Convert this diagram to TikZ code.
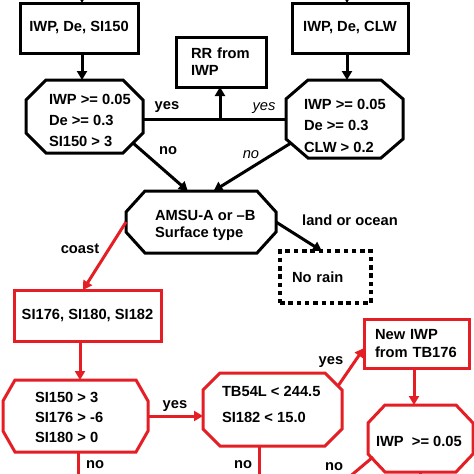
\documentclass[tikz,border=0pt]{standalone}
\usepackage{fontspec}
\setmainfont{Liberation Sans}
\usetikzlibrary{arrows.meta,calc}
\definecolor{rd}{RGB}{228,30,36}
% octagon drawn round a rectangular node: colour, node name, x chamfer, y chamfer
\newcommand\octo[4][black]{%
  \draw[line width=3pt,draw=#1,line join=miter]
    ([xshift=#3]#2.north west) -- ([xshift=-#3]#2.north east) --
    ([yshift=-#4]#2.north east) -- ([yshift=#4]#2.south east) --
    ([xshift=-#3]#2.south east) -- ([xshift=#3]#2.south west) --
    ([yshift=#4]#2.south west) -- ([yshift=-#4]#2.north west) -- cycle;}
\begin{document}
\begin{tikzpicture}[x=1pt,y=-1pt,
  every node/.style={font=\bfseries\fontsize{14.7}{17}\selectfont, inner sep=0pt, outer sep=0pt},
  it/.style={font=\fontsize{14.7}{17}\selectfont\itshape},
  ln/.style={line width=3pt},
  arr/.style={line width=3pt,-{Triangle[length=9pt,width=10pt]}},
  rarr/.style={arr,draw=rd},
  bx/.style={draw, line width=3pt, rectangle},
  rbx/.style={bx, draw=rd},
  oct/.style={rectangle, draw=none},
  txt/.style={anchor=north west, align=left},
  nr/.style={draw, line width=4pt, dash pattern=on 4.5pt off 3.8pt}
]
\fill[white] (0,0) rectangle (474,474);
\useasboundingbox (0,0) rectangle (474,474);

% boxes
\node[bx, minimum width=118pt, minimum height=50pt] (A) at (79,28) {IWP, De, SI150};
\node[bx, minimum width=116pt, minimum height=50pt] (B) at (350,28) {IWP, De, CLW};
\node[bx, minimum width=90pt, minimum height=50pt, text width=60pt, inner xsep=15pt, align=left] (RR) at (221,62) {RR from\\IWP};

\node[oct, minimum width=117pt, minimum height=73pt] (O1) at (84.5,116.5) {};
\octo{O1}{20pt}{20pt}
\node[txt] (O1t) at (49,94) {IWP >= 0.05\\[4pt]De >= 0.3\\[4pt]SI150 > 3};
\node[oct, minimum width=117pt, minimum height=78pt] (O2) at (344.5,119) {};
\octo{O2}{22pt}{19pt}
\node[txt] (O2t) at (304,99) {IWP >= 0.05\\[4.5pt]De >= 0.3\\[4.5pt]CLW > 0.2};

\node[oct, minimum width=150pt, minimum height=62pt] (AM) at (201,222) {};
\octo{AM}{19pt}{21pt}
\node[txt] (AMt) at (155,210) {AMSU-A or –B\\Surface type};
\node[nr, minimum width=91pt, minimum height=52pt, text width=67pt, inner xsep=12pt, align=left] (NR) at (325.5,277) {No rain};

\node[rbx, minimum width=147pt, minimum height=51pt] (S) at (87.5,315.5) {SI176, SI180, SI182};
\node[oct, minimum width=145pt, minimum height=72pt] (O3) at (75.5,416) {};
\octo[rd]{O3}{12pt}{21pt}
\node[txt] (O3t) at (35,392.7) {SI150 > 3\\[3pt]SI176 > -6\\[3pt]SI180 > 0};
\node[oct, minimum width=139pt, minimum height=73pt] (O4) at (272.5,409.5) {};
\octo[rd]{O4}{17pt}{17pt}
\node[txt] (O4t) at (222,386.7) {TB54L < 244.5\\[9pt]SI182 < 15.0};
\node[rbx, minimum width=105pt, minimum height=49pt, text width=83pt, inner xsep=11pt, align=left] (N) at (416.5,343.5) {New IWP\\[1pt]from TB176};
\node[oct, minimum width=105pt, minimum height=67pt] (O5) at (420.5,438.5) {};
\octo[rd]{O5}{17pt}{18pt}
\node[txt] (O5t) at (376,436) {IWP\ \ >= 0.05};

% helper coordinates
\coordinate (xa) at (82,-20);
\coordinate (xb) at (347,-20);
\coordinate (yl) at (220,119);
\coordinate (xs) at (80,0);
\coordinate (xn) at (414,0);
\coordinate (e3) at (78,490);
\coordinate (e4) at (259,490);
\coordinate (e5) at (420.5,490);
\coordinate (e6) at (335,489);

% connectors
\draw[arr] (xa) -- (xa |- A.north);
\draw[arr] (xa |- A.south) -- (xa |- O1.north);
\draw[arr] (xb) -- (xb |- B.north);
\draw[arr] (xb |- B.south) -- (xb |- O2.north);
\draw[ln] (yl -| O1.east) -- (yl -| O2.west);
\draw[arr] (yl) -- (yl |- RR.south);
\draw[arr] ($(O1.south east)+(-10,-10)$) -- (AM.113);
\draw[arr] ($(O2.south west)+(5,-15)$) -- (AM.68);
\draw[arr] (AM.east) -- (NR.98);
\draw[rarr] (AM.west) -- (S.100);
\draw[rarr] (xs |- S.south) -- (xs |- O3.north);
\draw[rarr] (O3.east) -- (O3.east -| O4.west);
\draw[rarr] ($(O4.north east)+(-4,13)$) -- (N.185);
\draw[rarr] (xn |- N.south) -- (xn |- O5.north);
\draw[rarr] (e3 |- O3.south) -- (e3);
\draw[rarr] (e4 |- O4.south) -- (e4);
\draw[rarr] (O5.south) -- (e5);
\draw[rarr] ($(O5.south west)+(5,-15)$) -- (e6);

% labels
\node[anchor=base] (l1) at (167,109.5) {yes};
\node[it, anchor=base] (l2) at (264,110) {yes};
\node[anchor=base] (l3) at (168,154) {no};
\node[it, anchor=base] (l4) at (251,158) {no};
\node[anchor=base] (l5) at (350,225.7) {land or ocean};
\node[anchor=base] (l6) at (80,253.3) {coast};
\node[anchor=base] (l7) at (175,408) {yes};
\node[anchor=base] (l8) at (331,364) {yes};
\node[anchor=base] (l9) at (95,468) {no};
\node[anchor=base] (l10) at (243,468) {no};
\node[anchor=base] (l11) at (334,470) {no};
\end{tikzpicture}
\end{document}
